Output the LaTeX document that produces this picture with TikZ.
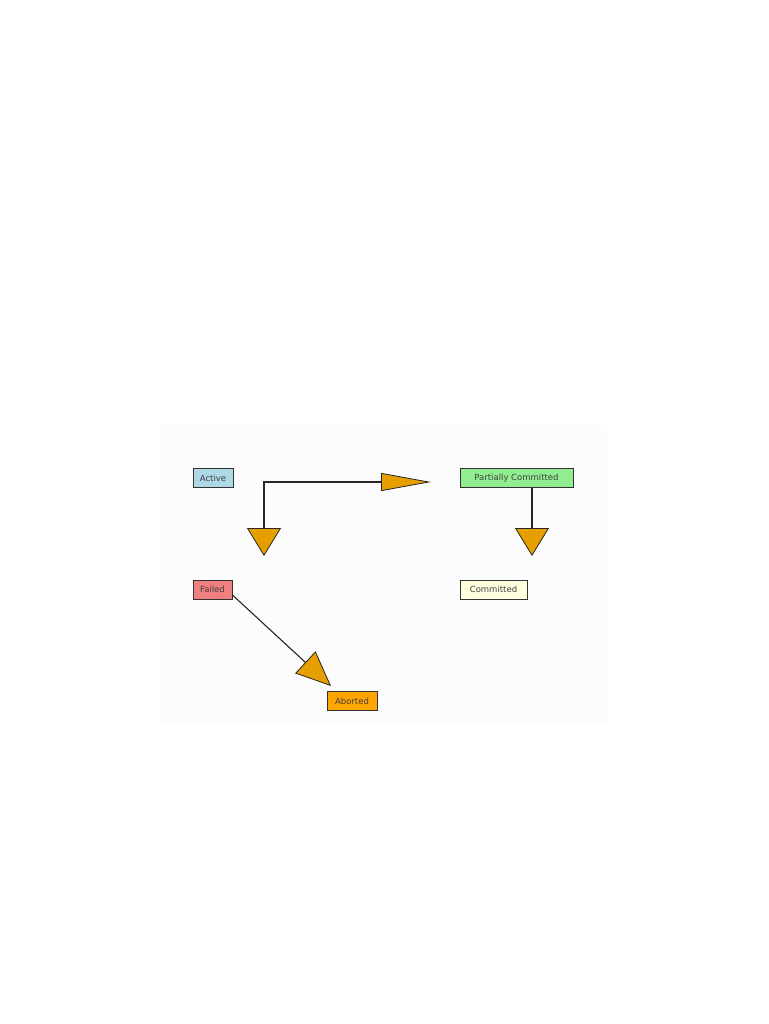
\documentclass[tikz,border=0pt]{standalone}
\usepackage{fontspec}
\setmainfont{DejaVu Sans}
\usetikzlibrary{arrows.meta}
\definecolor{arr}{HTML}{E69F00}
\definecolor{lblue}{RGB}{173,216,230}
\definecolor{lgreen}{RGB}{144,238,144}
\definecolor{lcoral}{RGB}{240,128,128}
\definecolor{lyellow}{RGB}{255,255,224}
\definecolor{orng}{RGB}{255,165,0}
\tikzset{
  st/.style={draw=black!80, line width=0.9pt, inner sep=0pt, minimum height=19pt, text=black!75, font=\fontsize{8.5}{10}\selectfont},
  con/.style={draw=black!85, line width=1.4pt},
}
\begin{document}
\begin{tikzpicture}[x=1pt,y=-1pt]
\useasboundingbox (0,0) rectangle (768,1024);
\fill[white] (0,0) rectangle (768,1024);
\fill[black!1] (160,425) rectangle (607,726);
\node[st, fill=lblue, minimum width=40pt] (act) at (213,478) {Active};
\node[st, fill=lgreen, minimum width=113pt] (pc) at (516.5,478) {Partially Committed};
\node[st, fill=lcoral, minimum width=39pt] (fail) at (212.5,589.5) {Failed};
\node[st, fill=lyellow, minimum width=67pt] (com) at (493.5,589.5) {Committed};
\node[st, fill=orng, minimum width=50pt] (abo) at (352,701) {Aborted};
\coordinate (a1) at (264,556);
\coordinate (a2) at (431,482);
\coordinate (p1) at (532,488);
\coordinate (p2) at (532,556);
\coordinate (f1) at (fail.north east |- 0,595);
\coordinate (f2) at (331,686);
\draw[con, {Triangle[length=28pt,width=34pt,fill=arr,line width=0.8pt]}-{Triangle[length=50pt,width=18pt,fill=arr,line width=0.8pt]}] (a1) |- (a2);
\draw[con, -{Triangle[length=28pt,width=34pt,fill=arr,line width=0.8pt]}] (p1) -- (p2);
\draw[con, line width=1.1pt, -{Triangle[length=35pt,width=30pt,fill=arr,line width=0.8pt]}] (f1) -- (f2);
\end{tikzpicture}
\end{document}
